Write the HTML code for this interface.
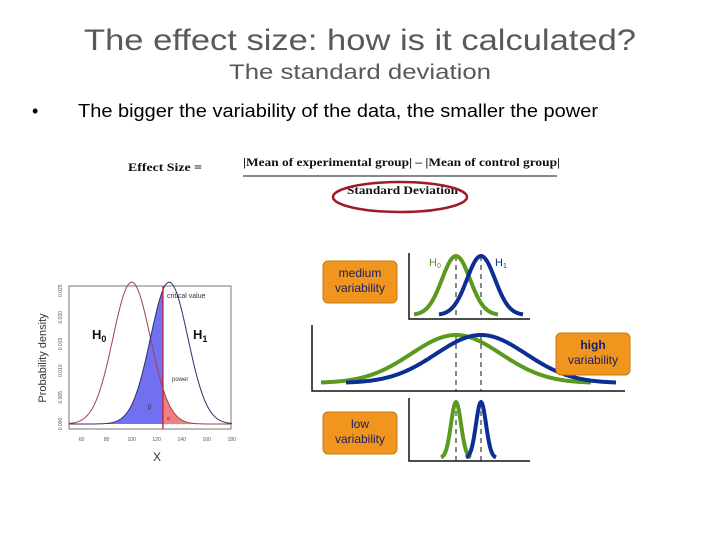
<!DOCTYPE html>
<html><head><meta charset="utf-8"><style>
html,body{margin:0;padding:0;background:#fff;width:720px;height:540px;overflow:hidden}
svg{display:block;font-family:"Liberation Sans",sans-serif}
</style></head><body>
<svg id="s" width="720" height="540" viewBox="0 0 720 540">
<text x="84" y="50" font-size="30" textLength="552" lengthAdjust="spacingAndGlyphs" fill="#595959">The effect size: how is it calculated?</text>
<text x="229" y="79" font-size="21" textLength="262" lengthAdjust="spacingAndGlyphs" fill="#595959">The standard deviation</text>
<text x="32" y="117" font-size="18" fill="#000">•</text>
<text x="78" y="117" font-size="18" textLength="520" lengthAdjust="spacingAndGlyphs" fill="#000">The bigger the variability of the data, the smaller the power</text>
<g font-family="Liberation Serif,serif" font-weight="bold" font-size="12" fill="#111">
<text x="128" y="171" textLength="74" lengthAdjust="spacingAndGlyphs">Effect Size  =</text>
<text x="243" y="166" textLength="317" lengthAdjust="spacingAndGlyphs">|Mean of experimental group| – |Mean of control group|</text>
<line x1="243" y1="176" x2="557" y2="176" stroke="#111" stroke-width="1"/>
<text x="347" y="194" textLength="111" lengthAdjust="spacingAndGlyphs">Standard Deviation</text>
<ellipse cx="400" cy="197" rx="67" ry="15" fill="none" stroke="#a01c24" stroke-width="2.5"/>
</g>
<g id="left"></g>
<g id="right"></g>
</svg>
<script>
// Left chart data
const xTicks=[60,80,100,120,140,160,180];
const yTicks=[0,0.005,0.010,0.015,0.020,0.025];
const yTickLabels=["0.000","0.005","0.010","0.015","0.020","0.025"];
const h0Mean=[100], h1Mean=[130], sdVal=[15], critical=[125];
// Right diagram data
const panelNames=["medium","high","low"];
const panelSd=[14,45,5];
const nullMeanPx=[456], altMeanPx=[481];

const NS="http://www.w3.org/2000/svg";
function mk(t,a,p){const e=document.createElementNS(NS,t);for(const k in a)e.setAttribute(k,a[k]);p.appendChild(e);return e;}
const L=document.getElementById('left'), R=document.getElementById('right');
const sx=v=>81.7+(v-60)*1.25, sy=v=>424-v/0.025*133.3;
const pdf=(x,m,s)=>Math.exp(-0.5*((x-m)/s)**2)/(s*Math.sqrt(2*Math.PI));
let r=mk('rect',{x:69,y:286,width:162,height:143,fill:'none',stroke:'#555','stroke-width':0.8},L);


const m0=h0Mean[0],m1=h1Mean[0],sd=sdVal[0],cv=critical[0];
function area(x0,x1,m){let d=`M${sx(x0)},${sy(0)}`;for(let x=x0;x<=x1+1e-9;x+=0.5)d+=`L${sx(x)},${sy(pdf(x,m,sd))}`;return d+`L${sx(x1)},${sy(0)}Z`;}
let e=mk('path',{d:area(50,cv,m1),fill:'#7070f0'},L);


e=mk('path',{d:area(cv,180,m1),fill:'none',stroke:'#999','stroke-width':0.5,'stroke-dasharray':'3 3'},L);


e=mk('path',{d:area(cv,180,m0),fill:'#f08080'},L);


function curve(m,x0,x1){let d='';for(let x=x0;x<=x1;x+=0.5)d+=(d?'L':'M')+sx(x)+','+sy(pdf(x,m,sd));return d;}
e=mk('path',{d:curve(m0,50,180),fill:'none',stroke:'#a04050','stroke-width':1},L);


e=mk('path',{d:curve(m1,50,180),fill:'none',stroke:'#303070','stroke-width':1},L);


e=mk('line',{x1:sx(cv),y1:286,x2:sx(cv),y2:429,stroke:'#c02030','stroke-width':1.3},L);


xTicks.forEach(v=>{const t=mk('text',{x:sx(v),y:441,'font-size':5,'text-anchor':'middle',fill:'#555'},L);t.textContent=v;

});
yTicks.forEach((v,i)=>{const t=mk('text',{x:62,y:sy(v),'font-size':5,'text-anchor':'middle',fill:'#555',transform:`rotate(-90 62 ${sy(v)})`},L);t.textContent=yTickLabels[i];

});
[['critical value',167,298,7,'critical-value-label'],['power',172,381,6,'power-label'],['β',148,409,6,'beta-label'],['α',167,420,5,'alpha-label']].forEach(a=>{const t=mk('text',{x:a[1],y:a[2],'font-size':a[3],fill:'#333'},L);t.textContent=a[0];

});
[['H',92,339,'h0-label'],['H',193,339,'h1-label']].forEach((a,i)=>{const t=mk('text',{x:a[1],y:a[2],'font-size':13,'font-weight':'bold',fill:'#111'},L);t.innerHTML='H<tspan font-size="9" dy="3">'+i+'</tspan>';

});
let t=mk('text',{x:46,y:358,'font-size':11,'text-anchor':'middle',fill:'#333',transform:'rotate(-90 46 358)'},L);t.textContent='Probability density';


t=mk('text',{x:157,y:461,'font-size':12,'text-anchor':'middle',fill:'#333'},L);t.textContent='X';



// Right diagram
const panels=[{ax:409,top:253,base:319,right:530,peak:256,crv:315,lab:[323,261]},
{ax:312,top:325,base:391,right:625,peak:335,crv:383,lab:[556,333]},
{ax:409,top:398,base:461,right:530,peak:402,crv:458,lab:[323,412]}];
const labels=[["medium","variability"],["high","variability"],["low","variability"]];
panels.forEach((p,i)=>{
 const s=panelSd[i];
 let a=mk('path',{d:`M${p.ax},${p.top}V${p.base}H${p.right}`,fill:'none',stroke:'#111','stroke-width':1.5},R);
 
 
 [nullMeanPx[0],altMeanPx[0]].forEach(mx=>{let l=mk('line',{x1:mx,y1:p.peak,x2:mx,y2:p.base,stroke:'#111','stroke-width':1,'stroke-dasharray':'5 4'},R);
 
 });
 [[nullMeanPx[0],'#5a9a1e','null'],[altMeanPx[0],'#0c2f94','alt']].forEach(c=>{
  let d='';const w=Math.min(3*s,140);
  for(let x=c[0]-w;x<=c[0]+w;x+=1){const y=p.crv-(p.crv-p.peak)*Math.exp(-0.5*((x-c[0])/s)**2);d+=(d?'L':'M')+x+','+y;}
  let q=mk('path',{d,fill:'none',stroke:c[1],'stroke-width':4,'stroke-linejoin':'round'},R);
  
  
 });
 let b=mk('rect',{x:p.lab[0],y:p.lab[1],width:74,height:42,rx:5,fill:'#f0961e',stroke:'#c87810','stroke-width':1},R);
 
 
 labels[i].forEach((w,j)=>{let tt=mk('text',{x:p.lab[0]+37,y:p.lab[1]+16+j*15,'font-size':12,'text-anchor':'middle',fill:'#1a2060','font-weight':i==1&&j==0?'bold':'normal'},R);tt.textContent=w;
 
 });
});
t=mk('text',{x:429,y:266,'font-size':11,fill:'#5a9a1e'},R);t.innerHTML='H<tspan font-size="7" dy="2">0</tspan>';


t=mk('text',{x:495,y:266,'font-size':11,fill:'#0c2f94'},R);t.innerHTML='H<tspan font-size="7" dy="2">1</tspan>';


</script>
</body></html>
